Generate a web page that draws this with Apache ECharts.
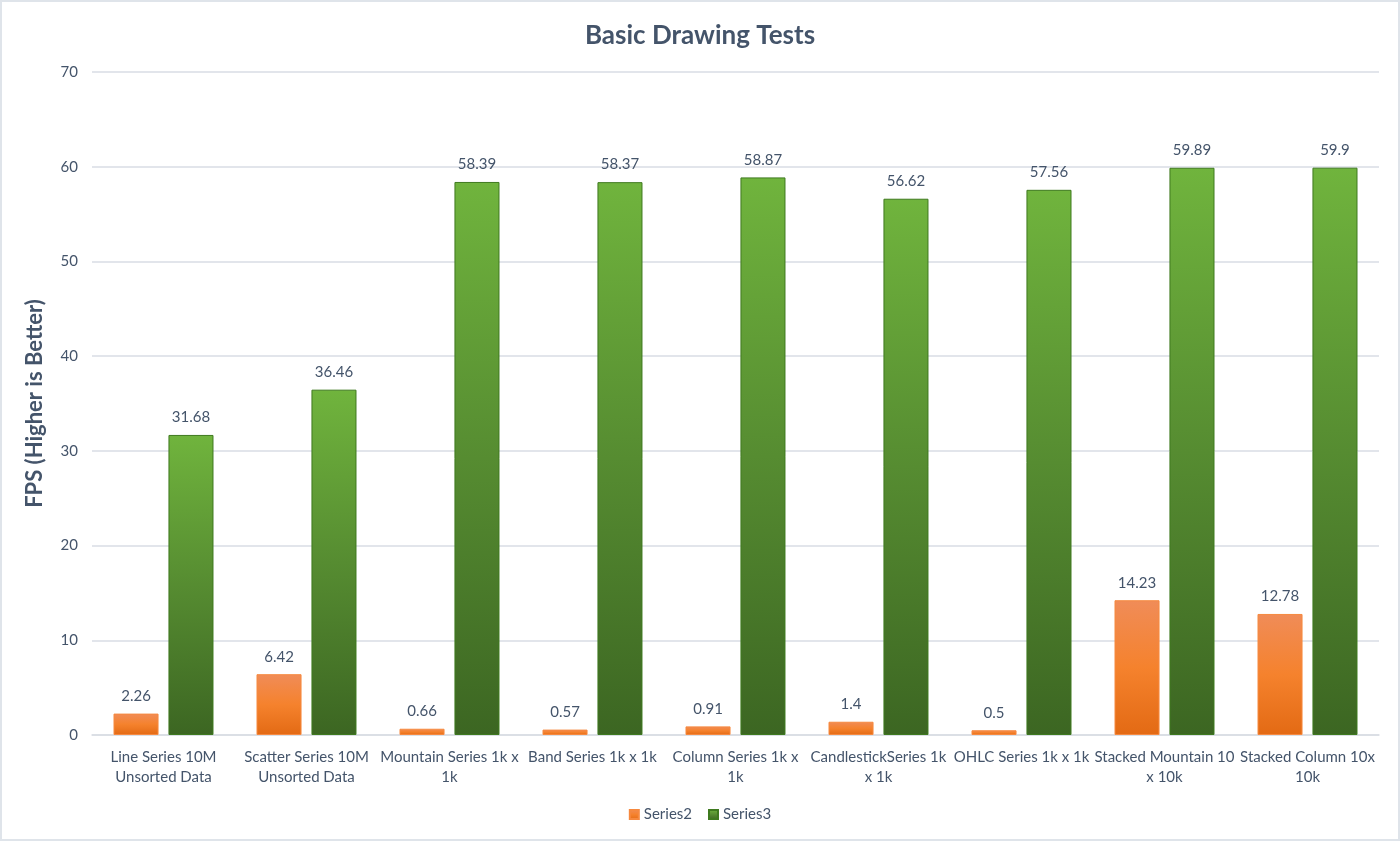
<!DOCTYPE html>
<html>
<head>
<meta charset="utf-8">
<title>Basic Drawing Tests</title>
<script src="https://cdn.jsdelivr.net/npm/echarts@6/dist/echarts.min.js"></script>
<style>
  html, body { margin: 0; padding: 0; background: #fff; }
  #chart { width: 1400px; height: 841px; box-sizing: border-box; border: 2px solid #dfe4ea; }
</style>
</head>
<body>
<div id="chart"></div>
<script>
  // categories (wrapped as in the original)
  var categories = [
    'Line Series 10M\nUnsorted Data',
    'Scatter Series 10M\nUnsorted Data',
    'Mountain Series 1k x\n1k',
    'Band Series 1k x 1k',
    'Column Series 1k x\n1k',
    'CandlestickSeries 1k\nx 1k',
    'OHLC Series 1k x 1k',
    'Stacked Mountain 10\nx 10k',
    'Stacked Column 10x\n10k'
  ];
  var series2 = [2.26, 6.42, 0.66, 0.57, 0.91, 1.4, 0.5, 14.23, 12.78];
  var series3 = [31.68, 36.46, 58.39, 58.37, 58.87, 56.62, 57.56, 59.89, 59.9];
  var yTicks = [0, 10, 20, 30, 40, 50, 60, 70];

  var textColor = '#44546a';
  var font = 'Lato, "Open Sans", sans-serif';

  var myChart = echarts.init(document.getElementById('chart'));

  var option = {
    backgroundColor: '#fff',
    textStyle: { fontFamily: font },
    title: {
      text: 'Basic Drawing Tests',
      left: 'center',
      top: 16,
      textStyle: { fontFamily: font, fontSize: 26, fontWeight: 'bold', color: textColor }
    },
    legend: {
      bottom: 12,
      left: 'center',
      itemWidth: 9,
      itemHeight: 9,
      itemGap: 16,
      icon: 'rect',
      textStyle: { fontFamily: font, fontSize: 15, color: textColor },
      data: ['Series2', 'Series3']
    },
    grid: {
      left: 90,
      right: 19,
      top: 70,
      bottom: 104,
      containLabel: false
    },
    xAxis: [{
      type: 'category',
      data: categories,
      axisLine: { show: true, lineStyle: { color: '#d9dde4', width: 1.5 } },
      axisTick: { show: false },
      axisLabel: {
        interval: 0,
        margin: 12,
        fontSize: 15,
        lineHeight: 20,
        color: textColor,
        fontFamily: font
      }
    }],
    yAxis: [{
      type: 'value',
      min: yTicks[0],
      max: yTicks[yTicks.length - 1],
      interval: 10,
      name: 'FPS (Higher is Better)',
      nameLocation: 'middle',
      nameGap: 46,
      nameRotate: 90,
      nameTextStyle: { fontFamily: font, fontSize: 22, fontWeight: 'bold', color: textColor },
      axisLine: { show: false },
      axisTick: { show: false },
      axisLabel: { fontSize: 15, color: textColor, margin: 14, fontFamily: font },
      splitLine: { show: true, lineStyle: { color: '#d9dde4', width: 1.5 } }
    }],
    series: [
      {
        name: 'Series2',
        type: 'bar',
        barWidth: '31.5%',
        barGap: '22%',
        data: series2,
        itemStyle: {
          color: new echarts.graphic.LinearGradient(0, 0, 0, 1, [
            { offset: 0, color: '#f08c58' },
            { offset: 0.5, color: '#f5822d' },
            { offset: 1, color: '#e36a14' }
          ]),
          borderColor: '#f6893f',
          borderWidth: 1
        },
        label: {
          show: true,
          position: 'top',
          distance: 10,
          fontSize: 15,
          color: textColor,
          fontFamily: font
        }
      },
      {
        name: 'Series3',
        type: 'bar',
        barWidth: '31.5%',
        data: series3,
        itemStyle: {
          color: new echarts.graphic.LinearGradient(0, 0, 0, 1, [
            { offset: 0, color: '#70b43d' },
            { offset: 0.5, color: '#568c31' },
            { offset: 1, color: '#3c6622' }
          ]),
          borderColor: '#3f7a1f',
          borderWidth: 1
        },
        label: {
          show: true,
          position: 'top',
          distance: 10,
          fontSize: 15,
          color: textColor,
          fontFamily: font
        }
      }
    ]
  };

  myChart.setOption(option);
</script>
</body>
</html>
